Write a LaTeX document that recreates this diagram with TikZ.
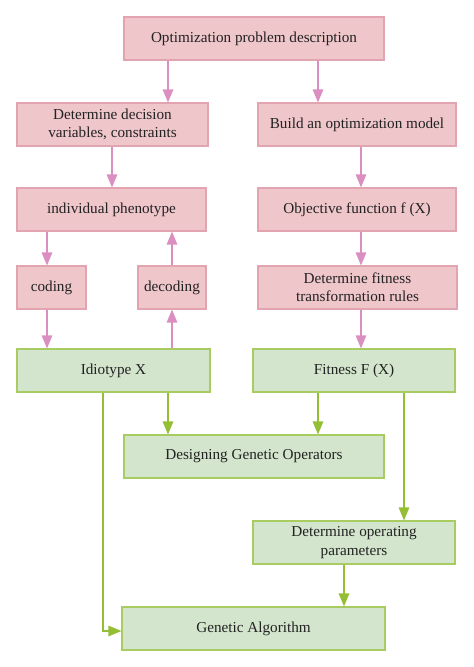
\documentclass[tikz,border=0pt]{standalone}
\usepackage{fontspec}
\setmainfont{Liberation Serif}
\usetikzlibrary{arrows.meta}
\definecolor{pfill}{HTML}{EFC6CA}
\definecolor{pdraw}{HTML}{E2A4B0}
\definecolor{parrow}{HTML}{DB8FC0}
\definecolor{gfill}{HTML}{D3E5CC}
\definecolor{gdraw}{HTML}{A9CC62}
\definecolor{garrow}{HTML}{94BF35}
\definecolor{txt}{HTML}{222222}
\tikzset{
  box/.style={rectangle, inner sep=0pt, align=center, text=txt,
    font=\fontsize{15.2}{18.3}\selectfont, line width=1.1pt},
  pbox/.style={box, fill=pfill, draw=pdraw},
  gbox/.style={box, fill=gfill, draw=gdraw},
  pa/.style={draw=parrow, line width=1.3pt, -{Triangle[length=13pt,width=10.5pt,fill=parrow]}},
  ga/.style={draw=garrow, line width=1.3pt, -{Triangle[length=13pt,width=10.5pt,fill=garrow]}}
}
\begin{document}
\begin{tikzpicture}[x=1pt,y=-1pt]
\useasboundingbox (0,0) rectangle (474,667);
\node[pbox, minimum width=260pt, minimum height=43pt] (top) at (254,38.5) {Optimization problem description};
\node[pbox, minimum width=191pt, minimum height=43pt] (dec) at (112.5,124.5) {Determine decision\\variables, constraints};
\node[pbox, minimum width=198pt, minimum height=43pt] (model) at (357,124.5) {Build an optimization model};
\node[pbox, minimum width=189pt, minimum height=43pt] (pheno) at (111.5,209.5) {individual phenotype};
\node[pbox, minimum width=198pt, minimum height=43pt] (obj) at (357,209.5) {Objective function f (X)};
\node[pbox, minimum width=69pt, minimum height=43pt] (coding) at (51.5,287.5) {coding};
\node[pbox, minimum width=68pt, minimum height=43pt] (decoding) at (172,287.5) {decoding};
\node[pbox, minimum width=199pt, minimum height=43pt] (rules) at (357.5,287.5) {Determine fitness\\transformation rules};
\node[gbox, minimum width=193pt, minimum height=43pt] (idio) at (113.5,370.5) {Idiotype X};
\node[gbox, minimum width=202pt, minimum height=43pt] (fit) at (354,370.5) {Fitness F (X)};
\node[gbox, minimum width=260pt, minimum height=43pt] (design) at (254,456.5) {Designing Genetic Operators};
\node[gbox, minimum width=202pt, minimum height=43pt] (oper) at (354,542.5) {Determine operating\\parameters};
\node[gbox, minimum width=263pt, minimum height=43pt] (gen) at (253.5,628.5) {Genetic Algorithm};
\coordinate (corner) at (103,631);
% pink arrows
\draw[pa] (top.south -| 168,0) -- (dec.north -| 168,0);
\draw[pa] (top.south -| 318,0) -- (model.north -| 318,0);
\draw[pa] (dec.south -| 112,0) -- (pheno.north -| 112,0);
\draw[pa] (model.south -| 361,0) -- (obj.north -| 361,0);
\draw[pa] (pheno.south -| 47,0) -- (coding.north -| 47,0);
\draw[pa] (decoding.north -| 172,0) -- (pheno.south -| 172,0);
\draw[pa] (obj.south -| 361,0) -- (rules.north -| 361,0);
\draw[pa] (coding.south -| 47,0) -- (idio.north -| 47,0);
\draw[pa] (idio.north -| 172,0) -- (decoding.south -| 172,0);
\draw[pa] (rules.south -| 361,0) -- (fit.north -| 361,0);
% green arrows
\draw[ga] (idio.south -| 168,0) -- (design.north -| 168,0);
\draw[ga] (fit.south -| 318,0) -- (design.north -| 318,0);
\draw[ga] (fit.south -| 404,0) -- (oper.north -| 404,0);
\draw[ga] (oper.south -| 344,0) -- (gen.north -| 344,0);
\draw[ga] (idio.south -| corner) -- (corner) -- (corner -| gen.west);
\end{tikzpicture}
\end{document}
